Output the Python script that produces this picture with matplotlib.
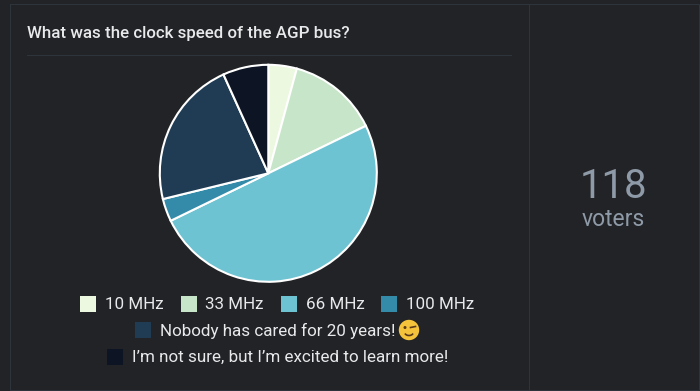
import matplotlib
matplotlib.use('Agg')
import matplotlib.pyplot as plt
from matplotlib.patches import Rectangle, Circle, Arc

plt.rcParams['font.family'] = ['Roboto', 'DejaVu Sans']

W, H = 700, 391

# votes per answer
answers = ['10 MHz', '33 MHz', '66 MHz', '100 MHz',
           'Nobody has cared for 20 years!',
           'I’m not sure, but I’m excited to learn more!']
votes = [5, 16, 59, 4, 26, 8]
colors = ['#edf8e1', '#c7e5c8', '#6dc3d2', '#348aa9', '#203c54', '#0d1524']
title = 'What was the clock speed of the AGP bus?'
voters = sum(votes)

BG = '#222326'
LINE = '#2e343c'

fig = plt.figure(figsize=(W / 100, H / 100), dpi=100, facecolor=BG)

# overlay in pixel coordinates
bg = fig.add_axes([0, 0, 1, 1])
bg.set_xlim(0, W)
bg.set_ylim(H, 0)
bg.axis('off')

# panel borders
top, bottom = 3.6, 389.5
bg.plot([9.5, 698.5, 698.5, 9.5, 9.5], [top, top, bottom, bottom, top], color=LINE, lw=0.72)
bg.plot([528.5, 528.5], [top, bottom], color=LINE, lw=0.72)
bg.plot([27, 511], [54.6, 54.6], color=LINE, lw=0.72)

bg.text(27, 33.5, title, color='#e8e9eb', fontsize=12.2, fontweight='medium', va='center', ha='left')

# pie
cx, cy, r = 268.3, 173.3, 108.5
pie_ax = fig.add_axes([(cx - r) / W, 1 - (cy + r) / H, 2 * r / W, 2 * r / H])
pie_ax.pie(votes, colors=colors, startangle=90, counterclock=False, radius=1,
           wedgeprops={'edgecolor': 'white', 'linewidth': 1.5, 'clip_on': False})
pie_ax.set_xlim(-1, 1)
pie_ax.set_ylim(-1, 1)

# legend rows
legend_pos = [(80, 296, 105), (181, 296, 205), (281, 296, 306), (381, 296, 406),
              (135, 322, 160), (107, 349, 132)]
for (sx, sy, tx), label, c in zip(legend_pos, answers, colors):
    bg.add_patch(Rectangle((sx, sy), 16, 16, facecolor=c, edgecolor='none'))
    bg.text(tx, sy + 8.5, label, color='#e8e9eb', fontsize=12.25, va='center', ha='left')

# winking emoji after the second row
ex, ey = 409, 330
bg.add_patch(Circle((ex, ey), 10.2, facecolor='#f5c33b', edgecolor='none'))
bg.add_patch(Circle((ex - 4, ey - 2.5), 1.5, facecolor='#5b3a1c', edgecolor='none'))
bg.plot([ex + 1.5, ex + 6.5], [ey - 2.5, ey - 3.5], color='#5b3a1c', lw=1.2)
bg.add_patch(Arc((ex, ey + 2), 9, 7, theta1=20, theta2=160, color='#5b3a1c', lw=1.2))

# voters count
bg.text(613.5, 186.5, str(voters), color='#8e9aa8', fontsize=29, va='center', ha='center')
bg.text(613, 219, 'voters', color='#8e9aa8', fontsize=16.5, va='center', ha='center')

fig.savefig('out.png', dpi=100, facecolor=BG)
